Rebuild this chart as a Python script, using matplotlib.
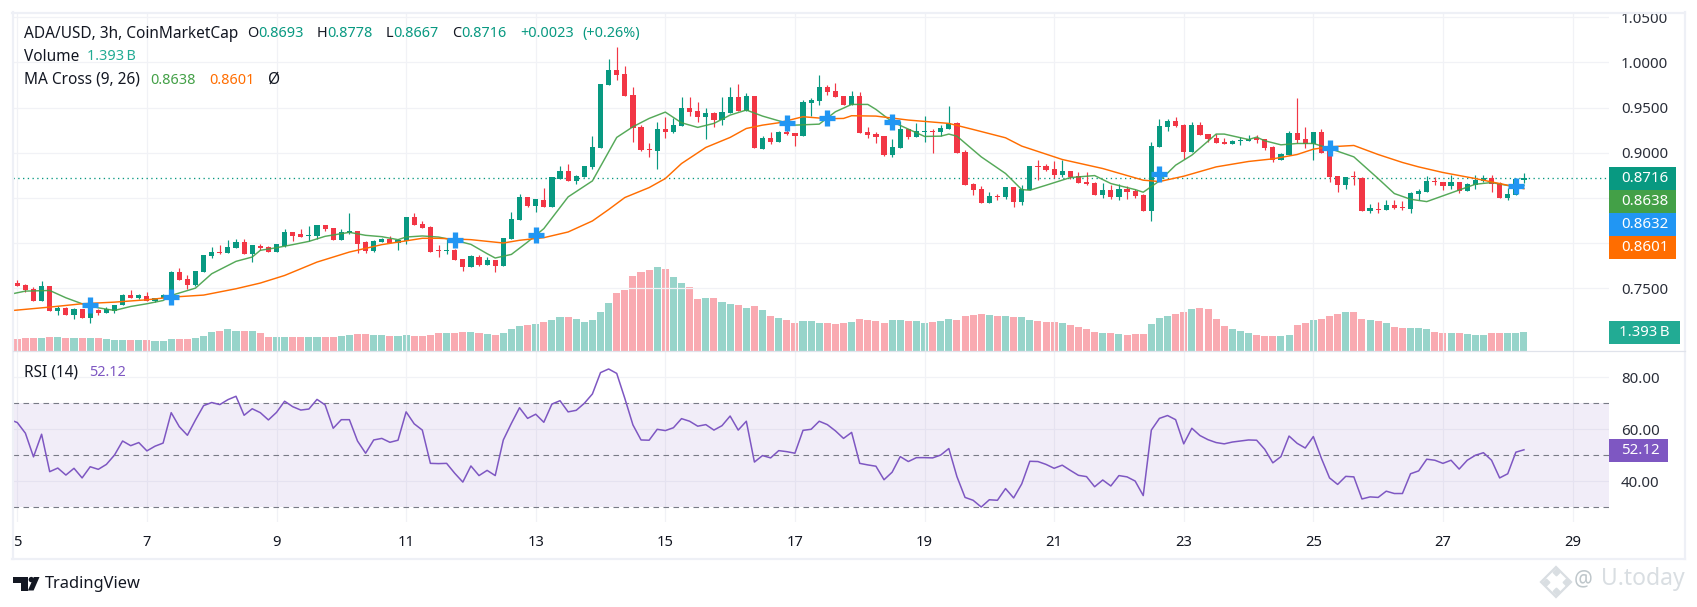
import numpy as np
import matplotlib
matplotlib.use("Agg")
import matplotlib.pyplot as plt
from matplotlib.patches import Rectangle, Polygon, Circle

plt.rcParams['font.family'] = ['Noto Sans', 'DejaVu Sans']

# 3h candles, first bar is the 5th 00:00
open_ = [.7554, .7532, .7487, .7358, .7521, .7247, .7277, .7210, .7266, .7170,
         .7255, .7225, .7251, .7317, .7421, .7391, .7417, .7354, .7391, .7417,
         .7676, .7598, .7532, .7680, .7853, .7905, .7890, .7946, .8008, .7883,
         .7968, .7953, .7901, .7972, .8119, .8097, .8079, .8079, .8197, .8164,
         .8034, .8116, .8130, .8008, .7912, .8012, .8045, .8001, .8023, .8285,
         .8208, .8175, .7924, .7912, .7920, .7820, .7735, .7849, .7757, .7809,
         .7746, .8045, .8256, .8507, .8407, .8481, .8400, .8714, .8795, .8692,
         .8729, .8840, .9054, .9749, .9915, .9871, .9638, .9283, .9039, .9017,
         .9261, .9228, .9294, .9494, .9461, .9394, .9438, .9361, .9438, .9616,
         .9461, .9627, .9039, .9161, .9117, .9228, .9217, .9183, .9549, .9571,
         .9727, .9682, .9627, .9527, .9627, .9228, .9206, .9183, .8973, .9050,
         .9261, .9172, .9232, .9243, .9228, .9261, .9328, .9006, .8651, .8596,
         .8441, .8518, .8507, .8618, .8452, .8585, .8851, .8851, .8818, .8751,
         .8795, .8740, .8673, .8662, .8529, .8585, .8507, .8596, .8574, .8529,
         .8352, .9061, .9283, .9350, .9305, .9006, .9305, .9206, .9161, .9117,
         .9095, .9128, .9128, .9161, .9150, .9061, .8917, .8973, .9217, .9150,
         .9095, .9228, .9065, .8740, .8640, .8740, .8718, .8352, .8374, .8363,
         .8418, .8396, .8374, .8541, .8563, .8684, .8673, .8629, .8673, .8574,
         .8640, .8684, .8718, .8662, .8496, .8529, .8693]
high = [.7594, .7543, .7509, .7576, .7521, .7306, .7292, .7277, .7266, .7292,
        .7273, .7292, .7317, .7432, .7476, .7432, .7454, .7395, .7439, .7687,
        .7720, .7642, .7694, .7872, .7953, .7975, .8031, .8042, .8042, .7975,
        .7994, .7972, .7994, .8160, .8119, .8160, .8186, .8197, .8197, .8171,
        .8160, .8334, .8130, .8019, .8031, .8056, .8075, .8045, .8293, .8330,
        .8245, .8186, .7983, .8049, .7938, .7827, .7872, .7872, .7849, .7809,
        .8053, .8341, .8541, .8515, .8485, .8607, .8729, .8851, .8873, .8751,
        .8851, .9183, .9760, 1.0037, 1.0170, .9959, .9727, .9305, .9106, .9339,
        .9394, .9379, .9616, .9616, .9560, .9494, .9449, .9616, .9727, .9760,
        .9660, .9627, .9183, .9228, .9239, .9250, .9217, .9583, .9605, .9860,
        .9749, .9771, .9627, .9682, .9671, .9283, .9228, .9183, .9150, .9350,
        .9261, .9328, .9405, .9261, .9305, .9516, .9339, .9028, .8662, .8629,
        .8563, .8541, .8618, .8618, .8640, .8851, .8917, .8873, .8906, .8917,
        .8795, .8784, .8784, .8673, .8662, .8640, .8651, .8629, .8596, .8541,
        .9117, .9372, .9372, .9394, .9316, .9339, .9339, .9206, .9206, .9161,
        .9139, .9172, .9195, .9195, .9150, .9073, .8995, .9239, .9605, .9283,
        .9228, .9261, .9128, .8740, .8729, .8795, .8729, .8430, .8452, .8474,
        .8474, .8463, .8563, .8596, .8740, .8729, .8673, .8751, .8673, .8662,
        .8751, .8751, .8751, .8673, .8607, .8718, .8778]
low = [.7521, .7458, .7358, .7358, .7247, .7210, .7203, .7155, .7173, .7114,
       .7210, .7225, .7225, .7310, .7391, .7384, .7358, .7347, .7391, .7329,
       .7591, .7487, .7521, .7680, .7835, .7875, .7890, .7946, .7875, .7790,
       .7927, .7901, .7901, .7957, .8023, .8067, .8023, .8049, .8134, .8034,
       .8034, .8105, .7890, .7890, .7901, .8012, .7997, .7920, .7990, .8201,
       .8167, .7898, .7842, .7875, .7813, .7691, .7735, .7742, .7757, .7680,
       .7746, .8045, .8256, .8400, .8341, .8400, .8400, .8714, .8688, .8655,
       .8729, .8825, .9054, .9749, .9804, .9627, .9117, .9017, .8951, .8818,
       .9161, .9217, .9294, .9405, .9339, .9150, .9283, .9305, .9438, .9461,
       .9461, .9054, .9039, .9095, .9117, .9195, .9073, .9183, .9405, .9527,
       .9638, .9616, .9527, .9527, .9220, .9161, .9106, .8962, .8951, .9050,
       .9150, .9172, .9117, .8995, .9183, .9261, .8995, .8640, .8529, .8441,
       .8441, .8474, .8485, .8396, .8418, .8585, .8696, .8795, .8718, .8729,
       .8707, .8662, .8640, .8529, .8496, .8485, .8474, .8485, .8496, .8352,
       .8241, .9061, .9239, .9283, .8928, .9006, .9195, .9117, .9106, .9095,
       .9095, .9084, .9128, .9106, .9028, .8895, .8917, .8973, .9106, .9050,
       .8917, .8995, .8673, .8563, .8596, .8640, .8352, .8330, .8330, .8363,
       .8374, .8363, .8330, .8474, .8563, .8640, .8585, .8596, .8552, .8574,
       .8596, .8673, .8563, .8496, .8474, .8529, .8667]
close = [.7524, .7476, .7358, .7521, .7247, .7277, .7210, .7266, .7173, .7262,
         .7225, .7273, .7317, .7421, .7391, .7421, .7358, .7395, .7421, .7676,
         .7591, .7532, .7687, .7864, .7905, .7894, .7953, .8008, .7883, .7975,
         .7942, .7901, .7986, .8119, .8082, .8067, .8086, .8197, .8153, .8034,
         .8119, .8130, .7990, .7912, .8019, .8045, .7997, .8034, .8285, .8201,
         .8167, .7905, .7916, .7924, .7813, .7731, .7853, .7753, .7809, .7742,
         .8053, .8263, .8507, .8407, .8485, .8400, .8729, .8795, .8688, .8740,
         .8851, .9061, .9760, .9915, .9860, .9627, .9272, .9028, .9032, .9261,
         .9228, .9305, .9494, .9449, .9394, .9438, .9361, .9449, .9616, .9461,
         .9627, .9054, .9161, .9117, .9228, .9206, .9183, .9560, .9583, .9727,
         .9671, .9616, .9527, .9627, .9220, .9195, .9172, .8973, .9061, .9261,
         .9172, .9239, .9239, .9232, .9272, .9328, .8995, .8640, .8585, .8441,
         .8518, .8511, .8618, .8452, .8596, .8851, .8840, .8807, .8751, .8795,
         .8729, .8662, .8651, .8529, .8585, .8507, .8596, .8563, .8518, .8352,
         .9073, .9294, .9350, .9294, .9006, .9305, .9195, .9150, .9106, .9095,
         .9128, .9139, .9154, .9146, .9050, .8917, .8984, .9217, .9139, .9095,
         .9228, .8995, .8729, .8640, .8729, .8729, .8352, .8385, .8363, .8418,
         .8385, .8385, .8552, .8574, .8684, .8673, .8629, .8673, .8574, .8651,
         .8696, .8718, .8651, .8496, .8541, .8707, .8716]
# volume in billions
volume = [.88, .95, .95, .95, 1.02, 1.02, .95, .95, .95, .95,
          .95, .88, .81, .81, .81, .81, .81, .73, .73, .88,
          .88, .88, .95, 1.10, 1.39, 1.46, 1.61, 1.46, 1.46, 1.46,
          1.32, 1.02, 1.02, 1.02, 1.02, 1.02, 1.02, 1.02, 1.02, 1.02,
          1.10, 1.17, 1.24, 1.24, 1.17, 1.17, 1.10, 1.10, 1.17, 1.10,
          1.10, 1.17, 1.32, 1.32, 1.32, 1.39, 1.39, 1.32, 1.24, 1.17,
          1.32, 1.61, 1.83, 1.90, 1.98, 2.12, 2.27, 2.49, 2.49, 2.34,
          2.12, 2.27, 2.85, 3.51, 4.25, 4.47, 5.49, 5.78, 5.93, 6.15,
          6.00, 5.42, 4.98, 4.68, 3.81, 3.88, 3.88, 3.59, 3.44, 3.37,
          3.15, 3.29, 3.00, 2.56, 2.42, 2.27, 2.05, 2.20, 2.20, 2.05,
          2.05, 1.98, 2.05, 2.12, 2.34, 2.27, 2.20, 2.05, 2.27, 2.27,
          2.20, 2.20, 2.05, 2.12, 2.20, 2.34, 2.27, 2.56, 2.64, 2.71,
          2.64, 2.56, 2.56, 2.49, 2.49, 2.27, 2.20, 2.12, 2.12, 2.05,
          1.90, 1.76, 1.61, 1.39, 1.32, 1.32, 1.24, 1.17, 1.24, 1.24,
          1.98, 2.42, 2.56, 2.71, 2.85, 3.07, 3.15, 3.07, 2.34, 1.83,
          1.61, 1.46, 1.32, 1.17, 1.10, 1.10, 1.10, 1.17, 1.90, 2.05,
          2.27, 2.34, 2.56, 2.71, 2.85, 2.85, 2.34, 2.27, 2.20, 2.05,
          1.76, 1.68, 1.68, 1.68, 1.61, 1.39, 1.32, 1.32, 1.32, 1.24,
          1.17, 1.17, 1.32, 1.32, 1.32, 1.32, 1.393]
# first rsi value belongs to the bar before the first candle
rsi = [63.8, 62.6, 58.5, 49.4, 58.1, 43.7, 45.1, 42.4, 45.0, 41.3, 45.6,
       44.6, 46.5, 50.1, 55.5, 53.7, 54.9, 51.7, 53.5, 54.7, 66.4,
       61.0, 57.7, 63.6, 69.1, 70.3, 69.5, 71.4, 72.7, 65.4, 67.9,
       66.4, 63.6, 66.5, 70.8, 68.7, 67.4, 67.8, 71.5, 69.4, 60.4,
       63.7, 63.7, 55.5, 50.8, 55.9, 56.5, 55.0, 55.8, 66.7, 62.1,
       59.7, 46.9, 46.8, 46.9, 43.1, 39.7, 45.9, 42.2, 44.2, 42.2,
       55.9, 62.3, 68.3, 64.2, 65.8, 62.7, 69.7, 71.0, 66.7, 67.3,
       70.0, 73.6, 81.8, 83.2, 81.5, 71.9, 61.7, 55.9, 55.8, 60.0,
       59.5, 60.6, 64.1, 63.1, 61.2, 61.8, 59.7, 61.4, 65.1, 59.7,
       63.1, 47.4, 49.9, 49.0, 51.8, 51.4, 50.8, 59.6, 60.0, 63.1,
       61.8, 59.4, 56.5, 58.8, 46.9, 46.3, 45.8, 40.6, 43.5, 49.5,
       47.6, 49.1, 49.1, 49.0, 50.1, 52.6, 41.8, 33.8, 32.7, 30.1,
       32.9, 32.7, 37.2, 33.6, 39.0, 47.7, 47.6, 46.5, 45.0, 46.2,
       44.2, 42.3, 41.8, 37.9, 40.5, 38.2, 42.2, 41.7, 40.1, 34.5,
       59.7, 64.2, 65.3, 63.7, 54.4, 60.4, 57.6, 56.0, 54.9, 54.4,
       55.1, 55.5, 55.9, 55.8, 52.3, 47.1, 49.5, 57.4, 54.6, 52.8,
       57.2, 48.8, 41.3, 38.8, 41.9, 41.7, 33.2, 34.0, 33.8, 36.2,
       35.3, 35.3, 42.9, 44.0, 48.5, 48.1, 46.9, 48.1, 44.7, 48.1,
       50.0, 51.0, 48.1, 41.3, 42.9, 51.2, 52.12]

# moving averages, turning points only
fast_bar = [-1, 1, 4, 6, 8, 10, 12, 14, 16, 18, 19, 22, 24, 27, 29, 30, 32, 34, 36, 38,
            41, 43, 45, 47, 48, 50, 52, 54, 56, 58, 59, 61, 63, 65, 68, 71, 74, 76, 78, 80,
            82, 84, 86, 88, 90, 92, 94, 96, 99, 101, 103, 105, 106, 108, 112, 114, 115, 116, 119, 122,
            124, 125, 127, 130, 133, 135, 138, 139, 141, 143, 145, 148, 149, 152, 153, 154, 156, 158, 160, 162,
            165, 168, 170, 172, 174, 177, 180, 182, 184, 186]
fast_ma = [.7432, .7469, .7476, .7395, .7329, .7284, .7255, .7299, .7329, .7365, .7421, .7502, .7661, .7798, .7846, .7920, .7949, .7983, .8019, .8075,
           .8119, .8086, .8071, .8038, .8067, .8079, .8067, .8031, .7986, .7883, .7835, .7875, .8012, .8160, .8511, .8688, .9169, .9287, .9379, .9449,
           .9331, .9280, .9324, .9416, .9472, .9405, .9353, .9305, .9316, .9453, .9534, .9534, .9479, .9342, .9180, .9183, .9206, .9183, .8954, .8770,
           .8592, .8585, .8640, .8725, .8747, .8659, .8592, .8563, .8688, .8862, .8973, .9206, .9206, .9146, .9172, .9132, .9087, .9102, .9102, .9047,
           .8954, .8714, .8548, .8485, .8459, .8555, .8651, .8670, .8637, .8638]
slow_bar = [-1, 4, 8, 12, 16, 19, 23, 27, 30, 33, 37, 41, 45, 50, 52, 56, 60, 62, 65, 68,
            71, 73, 75, 78, 80, 82, 85, 88, 90, 92, 94, 97, 100, 102, 103, 106, 110, 115, 118, 122,
            124, 129, 134, 139, 141, 144, 148, 152, 155, 158, 160, 162, 165, 168, 171, 173, 176, 180, 182, 184, 186]
slow_ma = [.7251, .7292, .7329, .7347, .7373, .7402, .7425, .7495, .7558, .7642, .7790, .7901, .7983, .8053, .8053, .8038, .8001, .8031, .8060, .8123,
           .8245, .8371, .8504, .8614, .8714, .8880, .9058, .9169, .9268, .9305, .9331, .9398, .9376, .9379, .9409, .9405, .9361, .9324, .9257, .9165,
           .9073, .8925, .8825, .8696, .8681, .8740, .8843, .8903, .8932, .8980, .9039, .9065, .9080, .8980, .8892, .8843, .8781, .8714, .8677, .8640, .8601]
cross_bar = [9, 19, 54, 64, 95, 100, 108, 141, 162, 185]
cross_val = [.7310, .7402, .8031, .8093, .9324, .9379, .9342, .8759, .9047, .8632]

date_labels = ['5', '7', '9', '11', '13', '15', '17', '19', '21', '23', '25', '27', '29']
price_ticks = [0.75, 0.80, 0.85, 0.90, 0.95, 1.00, 1.05]
price_labels = ['0.7500', '', '', '0.9000', '0.9500', '1.0000', '1.0500']
rsi_ticks = [40, 60, 80]
rsi_tick_labels = ['40.00', '60.00', '80.00']
last_price = 0.8716

assert len(open_) == len(high) == len(low) == len(close) == len(volume) == 187
assert len(rsi) == 188
assert len(fast_bar) == len(fast_ma) and len(slow_bar) == len(slow_ma)

UP = '#089981'
DOWN = '#F23645'
GRID = '#F1F2F6'
TXT = '#131722'
AXTXT = '#2A2E39'
PURPLE = '#7E57C2'
W, H = 1697, 607
LEFT, RIGHT = 13, 1609
MAIN_TOP, MAIN_BOT, RSI_BOT = 13, 351, 522

fig = plt.figure(figsize=(W / 100, H / 100), dpi=100, facecolor='white')


def pane(top, bot):
    return fig.add_axes([LEFT / W, 1 - bot / H, (RIGHT - LEFT) / W, (bot - top) / H])


vol_ax = pane(MAIN_TOP, MAIN_BOT)
ax = pane(MAIN_TOP, MAIN_BOT)
rsi_ax = pane(MAIN_BOT, RSI_BOT)
ax.patch.set_alpha(0)

bars = np.arange(len(close))
opens, highs, lows, closes = map(np.array, (open_, high, low, close))
up = closes >= opens
colors = np.where(up, UP, DOWN)
date_pos = np.arange(len(date_labels)) * 16
xlim = (-0.53, 196.5)

# volume behind everything
vol_ax.bar(bars, volume, width=0.87, color=colors, alpha=0.42, linewidth=0)
vol_ax.set_xlim(xlim)
vol_ax.set_ylim(0, 24.74)
vol_ax.set_yticks([])

# candles
ax.vlines(bars, lows, highs, colors=colors, linewidth=0.85, zorder=3)
ax.bar(bars, np.maximum(np.abs(closes - opens), 0.0006), bottom=np.minimum(opens, closes),
       width=0.64, color=colors, linewidth=0, zorder=3)
ax.axhline(last_price, color=UP, linestyle=(0, (1, 2.6)), linewidth=0.95, zorder=2)
ax.plot(fast_bar, fast_ma, color='#43A047', linewidth=1.05, zorder=4, alpha=0.9)
ax.plot(slow_bar, slow_ma, color='#FF6D00', linewidth=1.05, zorder=4)
ax.plot(cross_bar, cross_val, linestyle='none', marker='+', color='#2196F3', markersize=11,
        markeredgewidth=3.8, zorder=5)
ax.set_xlim(xlim)
ax.set_ylim(1.0 - (MAIN_BOT - 62.3) / 904, 1.0 + (62.3 - MAIN_TOP) / 904)
ax.yaxis.tick_right()
ax.set_yticks(price_ticks, price_labels)
ax.tick_params(axis='y', length=0, pad=8.6, labelsize=10.8, labelcolor=AXTXT)
ax.set_xticks(date_pos, [])
ax.tick_params(axis='x', length=0)

# rsi pane
rsi_ax.axhspan(30, 70, color=PURPLE, alpha=0.1, linewidth=0, zorder=1)
for level in [30, 50, 70]:
    rsi_ax.axhline(level, color='#787B86', linewidth=0.8, linestyle=(0, (5, 4)), zorder=2)
rsi_ax.plot(np.arange(-1, len(close)), rsi, color=PURPLE, linewidth=1.1, zorder=3)
rsi_ax.set_xlim(xlim)
rsi_ax.set_ylim(50 - (RSI_BOT - 455.3) / 2.6, 50 + (455.3 - MAIN_BOT) / 2.6)
rsi_ax.yaxis.tick_right()
rsi_ax.set_yticks(rsi_ticks, rsi_tick_labels)
rsi_ax.tick_params(axis='y', length=0, pad=8.6, labelsize=10.8, labelcolor=AXTXT)
rsi_ax.set_xticks(date_pos, date_labels, fontsize=10.6, color=TXT, fontweight='bold')
rsi_ax.tick_params(axis='x', length=0, pad=9)

for a in (vol_ax, ax, rsi_ax):
    for s in a.spines.values():
        s.set_visible(False)
for a in (ax, rsi_ax):
    a.grid(True, color=GRID, linewidth=0.9, zorder=0)
    a.set_axisbelow(True)
vol_ax.set_xticks([])

# overlay in pixel coordinates for the frame, badges, legends
ov = fig.add_axes([0, 0, 1, 1], zorder=10)
ov.set_xlim(0, W)
ov.set_ylim(H, 0)
ov.axis('off')
ov.patch.set_alpha(0)

ov.add_patch(Rectangle((0, 0), W, 12, color='white', linewidth=0))
FRAME = '#EEF0F6'
ov.plot([12.5, 12.5], [12, 559], color=FRAME, linewidth=1.6)
ov.plot([1685, 1685], [12, 559], color=FRAME, linewidth=1.6)
ov.plot([12, 1685], [12.5, 12.5], color=FRAME, linewidth=1.6)
ov.plot([12, 1685], [559, 559], color=FRAME, linewidth=1.6)
ov.plot([13, 1685], [351, 351], color='#E0E3EB', linewidth=0.9)


def badge(y0, y1, x1, color, label, cx):
    ov.add_patch(Rectangle((1609, y0), x1 - 1609, y1 - y0, color=color, linewidth=0))
    ov.text(cx, (y0 + y1) / 2, label, color='white', fontsize=10.8, ha='center', va='center')


badge(167, 190, 1676, '#089981', '0.8716', 1644.5)
badge(190, 213, 1676, '#43A047', '0.8638', 1644.5)
badge(213, 236, 1676, '#2196F3', '0.8632', 1644.5)
badge(236, 258.5, 1676, '#FF6D00', '0.8601', 1644.5)
badge(321, 344, 1680, '#22AB94', '1.393\u2009B', 1644.5)
badge(439, 462, 1668, PURPLE, '52.12', 1640)


def legend(x, y, label, color=TXT, size=11.1):
    ov.text(x, y, label, color=color, fontsize=size, ha='left', va='center')


NUM = 10.4
legend(24, 33.7, 'ADA/USD, 3h, CoinMarketCap')
for x, label, color in [(247, 'O', TXT), (258.7, '0.8693', UP), (316.7, 'H', TXT), (327, '0.8778', UP),
                        (385.7, 'L', TXT), (393, '0.8667', UP), (452, 'C', TXT), (461.7, '0.8716', UP),
                        (520, '+0.0023', UP), (582, '(+0.26%)', UP)]:
    legend(x, 33.7, label, color, NUM)
legend(24, 56.7, 'Volume')
legend(87.3, 56.7, '1.393\u2009B', '#22AB94', NUM)
legend(24, 80, 'MA Cross (9, 26)')
legend(150.3, 80, '0.8638', '#43A047', NUM)
legend(209, 80, '0.8601', '#FF6D00', NUM)
legend(267.7, 80, 'Ø')
legend(24.3, 372.7, 'RSI (14)')
legend(89.3, 372.7, '52.12', PURPLE, NUM)

# tradingview logo
ov.add_patch(Polygon([(13, 577), (27.5, 577), (27.5, 590.5), (20.7, 590.5), (20.7, 582.5), (13, 582.5)],
                     color=TXT, linewidth=0))
ov.add_patch(Circle((31.3, 579.6), 2.7, color=TXT, linewidth=0))
ov.add_patch(Polygon([(33.8, 577), (39.5, 577), (33.6, 590.5), (27.9, 590.5)], color=TXT, linewidth=0))
ov.text(44.5, 584, 'TradingView', color=TXT, fontsize=11.8, ha='left', va='center')

# watermark
WM = '#D9DEE2'
ov.plot([1556], [581.5], marker='D', markersize=15, markerfacecolor='none', markeredgecolor=WM, markeredgewidth=1.6)
ov.plot([1556, 1546, 1566, 1556], [572, 581.5, 581.5, 591], linestyle='none', marker='D', markersize=3.4, color=WM)
ov.text(1574, 580, '@', color='#BFC7CB', fontsize=15, ha='left', va='center')
ov.text(1601, 579, 'U.today', color=WM, fontsize=16.5, ha='left', va='center')

fig.savefig('out.png', dpi=100)
